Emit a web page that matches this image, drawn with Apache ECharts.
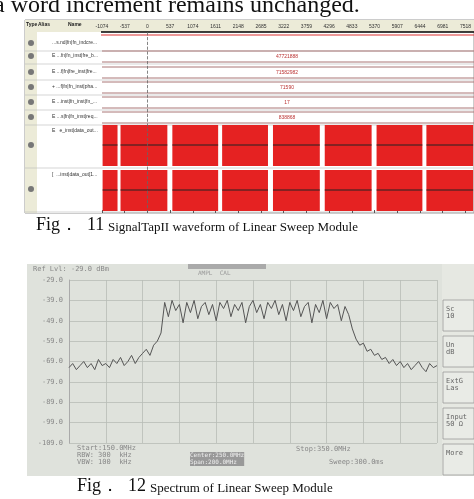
<!DOCTYPE html>
<html><head><meta charset="utf-8">
<script src="https://cdn.jsdelivr.net/npm/echarts@6/dist/echarts.min.js"></script>
<style>html,body{margin:0;padding:0;background:#fff}#c{width:474px;height:499px}</style>
</head><body><div id="c"></div>
<script>
// ---- data ----
var waveTicks = [-1074,-537,0,537,1074,1611,2148,2685,3222,3759,4296,4833,5370,5907,6444,6981,7518];
var rowNames = ['...s.nd|fn|fn_indcreset_n','E ...fn|fn_inst|fre_begin','E ...f|fn|fre_inst|fre_end','+ ...f|fn|fn_inst|phase_k','E ...inst|fn_inst|fn_sel|dem','E ...s|fn|fn_inst|req_inc'];
var rowValues = ['', '47721888', '71582982', '71590', '17', '838868'];
var burstStart = [-1060,-636,589,1766,2968,4192,5417,6595];
var burstEnd   = [-707,471,1672,2850,4075,5300,6500,7700];
var busNames = ['E   e_inst|data_out[1..17]','[  ...inst|data_out[14..27]'];
var freqMHz = [];  // x positions of spectrum samples, 2 MHz step
for (var f = 150; f <= 350; f += 2) freqMHz.push(f);
var levelDbm = [
-72,-70,-73,-71,-69,-72,-70,-73,-68,-71,-70,-72,-68,-70,-67,-71,-69,-66,-70,-67,
-65,-63,-66,-61,-59,-55,
-40,-47,-39,-44,-41,-50,-40,-45,-39,-48,-42,-40,-46,-41,-49,-40,-43,-39,-47,-41,-44,-40,-50,-42,-39,-45,-41,-48,-40,-43,-39,-46,-41,-49,-40,-44,-39,-47,-42,-40,-50,-41,-45,-39,-48,-40,-43,-41,-49,-42,
-46,-53,-58,-61,-60,-64,-63,-66,-65,-68,-67,-70,-68,-71,-69,-72,-70,-73,-71,-69,-72,-74,-70,-72,-71];
var yTicks = [-109,-99,-89,-79,-69,-59,-49,-39,-29];

// ---- chart ----
var chart = echarts.init(document.getElementById('c'));
var serif = 'Liberation Serif, DejaVu Serif, serif';
var mono = 'DejaVu Sans Mono, monospace';
var g = [];
g.push({type:'text',left:-6,top:-6,style:{text:'a word increment remains unchanged.',font:'24px '+serif,fill:'#111'}});
g.push({type:'rect',shape:{x:25,y:20,width:449,height:193},style:{fill:'#fff',stroke:'#999',lineWidth:1}});
g.push({type:'rect',shape:{x:25,y:20,width:449,height:12},style:{fill:'#ecebd8'}});
g.push({type:'rect',shape:{x:25,y:32,width:77,height:181},style:{fill:'#fff'}});
g.push({type:'rect',shape:{x:25,y:32,width:12,height:181},style:{fill:'#ecebd8'}});
g.push({type:'text',x:26,y:22,style:{text:'Type',font:'bold 5px sans-serif',fill:'#222'}});
g.push({type:'text',x:38,y:22,style:{text:'Alias',font:'bold 5px sans-serif',fill:'#222'}});
g.push({type:'text',x:68,y:22,style:{text:'Name',font:'bold 5px sans-serif',fill:'#222'}});
g.push({type:'line',shape:{x1:101,y1:32,x2:474,y2:32},style:{stroke:'#000',lineWidth:1.5}});
g.push({type:'line',shape:{x1:101,y1:35,x2:474,y2:35},style:{stroke:'#d33',lineWidth:1.2}});
var rowTops = [37,50,66,81,96,111];
for (var i=0;i<rowNames.length;i++){
  var y=rowTops[i], h=14;
  g.push({type:'line',shape:{x1:25,y1:y+h,x2:474,y2:y+h},style:{stroke:'#bbb',lineWidth:0.6}});
  g.push({type:'circle',shape:{cx:31,cy:y+6,r:3},style:{fill:'#777'}});
  g.push({type:'text',x:52,y:y+3,style:{text:rowNames[i],font:'5px sans-serif',fill:'#333',width:48,overflow:'truncate'}});
  if (i>0){
    g.push({type:'line',shape:{x1:102,y1:y+1,x2:474,y2:y+1},style:{stroke:'#a77',lineWidth:1}});
    g.push({type:'line',shape:{x1:102,y1:y+12,x2:474,y2:y+12},style:{stroke:'#a77',lineWidth:1}});
    g.push({type:'text',x:287,y:y+4,style:{text:rowValues[i],font:'5px sans-serif',fill:'#b33',align:'center'}});
  }
}
var busTops=[125,169];
for (var j=0;j<2;j++){
  g.push({type:'circle',shape:{cx:31,cy:busTops[j]+20,r:3},style:{fill:'#777'}});
  g.push({type:'text',x:52,y:busTops[j]+3,style:{text:busNames[j],font:'5px sans-serif',fill:'#333',width:48,overflow:'truncate'}});
  g.push({type:'line',shape:{x1:25,y1:busTops[j]+43,x2:474,y2:busTops[j]+43},style:{stroke:'#bbb',lineWidth:0.6}});
}
g.push({type:'text',left:36,top:216,style:{text:'Fig．  11 ',font:'18px '+serif,fill:'#111'}});
g.push({type:'text',left:108,top:221,style:{text:'SignalTapII waveform of Linear Sweep Module',font:'13px '+serif,fill:'#111'}});
g.push({type:'rect',shape:{x:27,y:264,width:447,height:212},style:{fill:'#dfe2dc'}});
g.push({type:'rect',shape:{x:442,y:264,width:32,height:212},style:{fill:'#e6e8e2'}});
['Sc\n10','Un\ndB','ExtG\nLas','Input\n50 \u03a9','More'].forEach(function(t,k){
  g.push({type:'rect',shape:{x:443,y:300+k*36,width:31,height:31},style:{fill:'#e9ebe6',stroke:'#999',lineWidth:0.8}});
  g.push({type:'text',x:446,y:306+k*36,style:{text:t,font:'7px '+mono,fill:'#666'}});
});
g.push({type:'text',x:33,y:266,style:{text:'Ref Lvl: -29.0 dBm',font:'7px '+mono,fill:'#888'}});
g.push({type:'rect',shape:{x:188,y:264,width:78,height:5},style:{fill:'#aaa'}});
g.push({type:'text',x:198,y:270,style:{text:'AMPL  CAL',font:'6px '+mono,fill:'#999'}});
g.push({type:'text',x:77,y:445,style:{text:'Start:150.0MHz\nRBW: 300  kHz\nVBW: 100  kHz',font:'7px '+mono,fill:'#888',lineHeight:7}});
g.push({type:'text',x:190,y:452,style:{text:'Center:250.0MHz\nSpan:200.0MHz',font:'6px '+mono,fill:'#eee',backgroundColor:'#999',lineHeight:7}});
g.push({type:'text',x:296,y:446,style:{text:'Stop:350.0MHz',font:'7px '+mono,fill:'#888'}});
g.push({type:'text',x:329,y:459,style:{text:'Sweep:300.0ms',font:'7px '+mono,fill:'#888'}});
g.push({type:'text',left:77,top:477,style:{text:'Fig．  12 ',font:'18px '+serif,fill:'#111'}});
g.push({type:'text',left:150,top:482,style:{text:'Spectrum of Linear Sweep Module',font:'13px '+serif,fill:'#111'}});

var bursts = burstStart.map(function(s,k){return [s,burstEnd[k]];});
function burstItem(top){
  return function(params, api){
    var a = api.coord([api.value(0),0]), b = api.coord([api.value(1),0]);
    return {type:'group',children:[
      {type:'rect',shape:{x:a[0],y:top,width:b[0]-a[0],height:41},style:{fill:'#e52222'}},
      {type:'line',shape:{x1:a[0],y1:top+20,x2:b[0],y2:top+20},style:{stroke:'#222',lineWidth:1}}
    ]};
  };
}
chart.setOption({
  animation:false,
  graphic:{elements:g},
  grid:[
    {left:102,right:0,top:32,height:181},
    {left:69,right:37,top:280,height:163}
  ],
  xAxis:[
    {gridIndex:0,type:'value',position:'top',min:-1074,max:7700,interval:537,
     axisLine:{show:false},axisTick:{show:true,length:3,lineStyle:{color:'#555'}},splitLine:{show:false},
     axisLabel:{fontSize:5,color:'#333',margin:3,showMaxLabel:false,formatter:function(v){return String(v);}}},
    {gridIndex:1,type:'value',min:150,max:350,interval:20,
     axisLine:{show:false},axisTick:{show:false},axisLabel:{show:false},
     splitLine:{show:true,lineStyle:{color:'#b8bcb6',width:0.8}}}
  ],
  yAxis:[
    {gridIndex:0,type:'value',min:0,max:1,show:false},
    {gridIndex:1,type:'value',min:-109,max:-29,interval:10,
     axisLine:{show:true,lineStyle:{color:'#aaa'}},axisTick:{show:false},
     axisLabel:{fontSize:7,color:'#888',fontFamily:'DejaVu Sans Mono',margin:6,formatter:function(v){return v.toFixed(1);}},
     splitLine:{show:true,lineStyle:{color:'#b8bcb6',width:0.8}}}
  ],
  series:[
    {type:'custom',xAxisIndex:0,yAxisIndex:0,data:bursts,renderItem:burstItem(125),
     markLine:{silent:true,symbol:'none',label:{show:false},lineStyle:{color:'#666',type:'dashed',width:0.8},data:[{xAxis:0}]}},
    {type:'custom',xAxisIndex:0,yAxisIndex:0,data:bursts,renderItem:burstItem(170)},
    {type:'line',xAxisIndex:1,yAxisIndex:1,data:freqMHz.map(function(x,k){return [x,levelDbm[k]];}),
     symbol:'none',lineStyle:{color:'#555',width:1}}
  ]
});
</script></body></html>
